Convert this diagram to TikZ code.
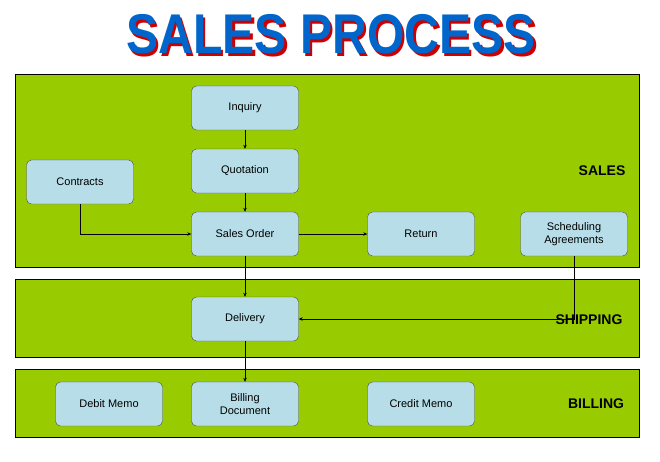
\documentclass[tikz,border=0pt]{standalone}
\usepackage{fontspec}
\setmainfont{Liberation Sans}
\usetikzlibrary{arrows.meta}
\definecolor{pgreen}{HTML}{99CC00}
\definecolor{bbox}{HTML}{B7DEE8}
\definecolor{tblue}{HTML}{0066CC}
\definecolor{tred}{HTML}{CC0000}
\begin{document}
\begin{tikzpicture}[x=1pt,y=-1pt,
 panel/.style={draw=black,fill=pgreen,line width=0.6pt},
 box/.style={draw=black!70,fill=bbox,rounded corners=5pt,minimum width=107pt,minimum height=44pt,align=center,font=\fontsize{11}{13}\selectfont,inner sep=1pt},
 lab/.style={font=\bfseries\fontsize{14}{16}\selectfont},
 arr/.style={-{Stealth[length=4pt,width=3.5pt]},line width=0.5pt}]
\useasboundingbox (0,0) rectangle (660,461);
\fill[white] (0,0) rectangle (660,461);
\node[font=\bfseries\fontsize{56}{56}\selectfont,xscale=0.86] (title) at (331,36)
 {\rlap{\kern3pt\raisebox{-3pt}{\color{tred}SALES PROCESS}}\textcolor{tblue}{SALES PROCESS}};
\draw[panel] (15,74) rectangle (639,267);
\draw[panel] (15,279) rectangle (639,357);
\draw[panel] (15,369) rectangle (639,437);
\node[lab] (ls) at (602,171) {SALES};
\node[lab] (lsh) at (589,320) {SHIPPING};
\node[lab] (lb) at (596,404) {BILLING};
\node[box] (inq) at (245,108) {Inquiry};
\node[box] (quo) at (245,171) {Quotation};
\node[box] (con) at (80,182) {Contracts};
\node[box] (so) at (245,234) {Sales Order};
\node[box] (ret) at (421,234) {Return};
\node[box] (sch) at (574,234) {Scheduling\\Agreements};
\node[box] (del) at (245,319) {Delivery};
\node[box] (deb) at (109,404) {Debit Memo};
\node[box] (bil) at (245,404) {Billing\\Document};
\node[box] (cre) at (421,404) {Credit Memo};
\draw[arr] (inq) -- (quo);
\draw[arr] (quo) -- (so);
\draw[arr] (con.south) |- (so.west);
\draw[arr] (so) -- (ret);
\draw[arr] (so) -- (del);
\draw[arr] (sch.south) |- (del.east);
\draw[arr] (del) -- (bil);
\end{tikzpicture}
\end{document}
